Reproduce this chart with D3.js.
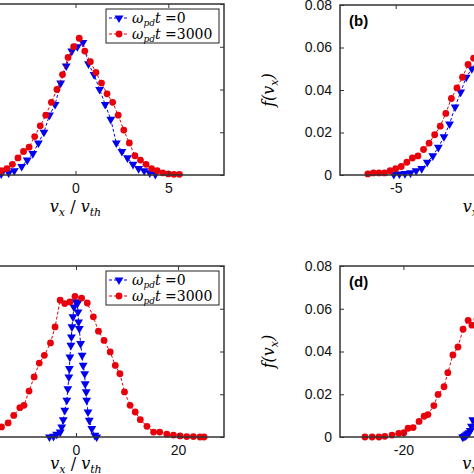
<!DOCTYPE html>
<html><head><meta charset="utf-8">
<script src="https://cdn.jsdelivr.net/npm/d3@7"></script>
<style>body{margin:0;background:#fff}</style>
</head><body>
<div id="chart"></div>
<script>
// values: [v_x/v_th, f(v_x)]
var blueA = [[-4.0,0.0005],[-3.6,0.001],[-3.3,0.002],[-2.9,0.004],[-2.6,0.007],[-2.3,0.010],[-2.0,0.015],[-1.7,0.020],[-1.4,0.028],[-1.1,0.033],[-0.8,0.043],[-0.5,0.051],[-0.2,0.058],[0.1,0.060],[0.4,0.062],[0.7,0.052],[1.0,0.047],[1.3,0.040],[1.6,0.033],[1.9,0.026],[2.2,0.015],[2.5,0.011],[2.8,0.008],[3.1,0.005],[3.4,0.003],[3.7,0.002],[4.0,0.001],[4.3,0.0003]];
var redA = [[-4.6,0.001],[-4.3,0.001],[-4.0,0.002],[-3.7,0.003],[-3.4,0.005],[-3.1,0.008],[-2.8,0.011],[-2.5,0.013],[-2.2,0.018],[-1.9,0.023],[-1.6,0.028],[-1.3,0.034],[-1.0,0.040],[-0.7,0.047],[-0.4,0.055],[-0.1,0.060],[0.2,0.064],[0.5,0.058],[0.8,0.053],[1.1,0.048],[1.4,0.043],[1.7,0.038],[2.0,0.034],[2.3,0.028],[2.6,0.021],[2.9,0.015],[3.2,0.009],[3.5,0.007],[3.8,0.005],[4.1,0.003],[4.4,0.002],[4.7,0.001],[5.0,0.0005],[5.3,0.0003],[5.6,0.0003]];
var blueB = [[-5.1,0.0003],[-4.8,0.0005],[-4.5,0.0007],[-4.2,0.001],[-3.9,0.002],[-3.6,0.003],[-3.3,0.006],[-3.0,0.009],[-2.7,0.013],[-2.4,0.018],[-2.1,0.024],[-1.8,0.032],[-1.5,0.039],[-1.2,0.046],[-0.9,0.050],[-0.6,0.054],[-0.3,0.057],[0.0,0.059]];
var redB = [[-6.5,0.0005],[-6.2,0.001],[-5.9,0.001],[-5.6,0.001],[-5.3,0.002],[-5.0,0.003],[-4.7,0.004],[-4.4,0.006],[-4.1,0.008],[-3.8,0.009],[-3.5,0.012],[-3.2,0.015],[-2.9,0.019],[-2.6,0.023],[-2.3,0.029],[-2.0,0.036],[-1.7,0.041],[-1.4,0.046],[-1.1,0.052],[-0.8,0.055],[-0.5,0.058],[-0.2,0.059]];
var blueC = [[-5.2,0],[-4.4,0.0003],[-3.8,0.0013],[-3.1,0.0023],[-2.8,0.0047],[-2.5,0.0081],[-2.2,0.0125],[-1.8,0.0172],[-1.6,0.0226],[-1.4,0.0281],[-1.3,0.032],[-1.2,0.0374],[-1.0,0.0429],[-0.9,0.0468],[-0.8,0.0515],[-0.6,0.0562],[-0.4,0.0608],[0.0,0.0632],[0.27,0.0624],[0.4,0.0585],[0.5,0.0538],[0.65,0.0507],[0.9,0.0437],[1.2,0.0382],[1.4,0.0335],[1.7,0.0296],[1.8,0.0249],[2.0,0.0211],[2.1,0.0172],[2.35,0.0117],[2.6,0.0078],[3.1,0.0039],[3.7,0.0008],[4.05,0]];
var redC = [[-17.5,0.002],[-16,0.003],[-14.6,0.0047],[-13.3,0.0066],[-12.2,0.0101],[-11.0,0.0137],[-10.2,0.0148],[-9.2,0.0215],[-8.2,0.0281],[-7.2,0.0346],[-6.2,0.0382],[-5.0,0.044],[-4.1,0.0515],[-3.1,0.064],[-2.2,0.0624],[-1.2,0.0632],[-0.2,0.0658],[1.1,0.065],[2.2,0.0627],[3.4,0.0562],[4.4,0.0495],[5.5,0.0452],[6.7,0.0398],[7.7,0.0335],[8.6,0.0296],[9.5,0.0211],[10.6,0.0148],[11.6,0.0117],[12.6,0.0081],[13.9,0.005],[15.2,0.0023],[16.4,0.0023],[17.8,0.0013],[19.1,0.0009],[20.4,0.0005],[21.7,0.0002],[23.0,0.0002],[24.3,0],[25.1,0]];
var blueD = [[-6.0,0],[-5.7,0.0002],[-5.4,0.0005],[-5.1,0.001],[-4.8,0.0015],[-4.5,0.002],[-4.2,0.003],[-3.9,0.005],[-3.6,0.008]];
var redD = [[-29.1,0],[-27.4,0],[-25.8,0],[-24.4,0.0003],[-22.7,0.0009],[-21.1,0.0017],[-19.9,0.002],[-18.9,0.0041],[-17.7,0.0044],[-16.3,0.0073],[-15.1,0.0097],[-14.2,0.0105],[-12.8,0.0147],[-11.8,0.0199],[-10.4,0.0235],[-9.5,0.0301],[-8.3,0.0384],[-7.1,0.0421],[-5.9,0.0504],[-4.7,0.0546],[-3.8,0.0523],[-2.6,0.055]];
var yTicks = [0, 0.02, 0.04, 0.06, 0.08];
var legendLabels = ["=0", "=3000"];

var svg = d3.select("#chart").append("svg").attr("width", 474).attr("height", 474);

var panels = [
  {left:-73, top:4, w:297, h:171, xdom:[-8,8], xticks:[-5,0,5], tag:null, legend:true, xlab:32, blue:blueA, red:redA},
  {left:340, top:5, w:297, h:170, xdom:[-8,8], xticks:[-5,0,5], tag:"(b)", legend:false, xlab:32, blue:blueB, red:redB},
  {left:-72, top:266, w:296, h:171, xdom:[-29,29], xticks:[-20,0,20], tag:null, legend:true, xlab:27, blue:blueC, red:redC},
  {left:340, top:266, w:296, h:171, xdom:[-35,35], xticks:[-20,0,20], tag:"(d)", legend:false, xlab:27, blue:blueD, red:redD}
];

var tri = d3.symbol().type(d3.symbolTriangle).size(34);

function drawPanel(p) {
  var x = d3.scaleLinear().domain(p.xdom).range([p.left, p.left + p.w]);
  var y = d3.scaleLinear().domain([0, 0.08]).range([p.top + p.h, p.top]);
  var g = svg.append("g");

  var line = d3.line().x(d => x(d[0])).y(d => y(d[1]));
  [[p.blue, "#0000ee", "tri"], [p.red, "#e8000b", "dot"]].forEach(function(s) {
    g.append("path").datum(s[0]).attr("d", line).attr("fill", "none")
      .attr("stroke", s[1]).attr("stroke-width", 1).attr("stroke-dasharray", "3,2");
    if (s[2] == "tri") {
      g.selectAll(null).data(s[0]).enter().append("path").attr("d", tri)
        .attr("transform", d => "translate(" + x(d[0]) + "," + y(d[1]) + ") rotate(180)")
        .attr("fill", s[1]);
    } else {
      g.selectAll(null).data(s[0]).enter().append("circle")
        .attr("cx", d => x(d[0])).attr("cy", d => y(d[1])).attr("r", 3.4).attr("fill", s[1]);
    }
  });

  // frame and inside ticks
  var b = p.top + p.h, r = p.left + p.w;
  g.append("g").attr("transform", "translate(0," + b + ")")
    .call(d3.axisBottom(x).tickValues(p.xticks).tickSizeInner(-4).tickSizeOuter(0).tickPadding(8).tickFormat(d => String(d)));
  g.append("g").attr("transform", "translate(0," + p.top + ")")
    .call(d3.axisTop(x).tickValues(p.xticks).tickSizeInner(-4).tickSizeOuter(0).tickFormat(""));
  g.append("g").attr("transform", "translate(" + p.left + ",0)")
    .call(d3.axisLeft(y).tickValues(yTicks).tickSizeInner(-4).tickSizeOuter(0).tickPadding(8).tickFormat(d => d === 0 ? "0" : d3.format(".2f")(d)));
  g.append("g").attr("transform", "translate(" + r + ",0)")
    .call(d3.axisRight(y).tickValues(yTicks).tickSizeInner(-4).tickSizeOuter(0).tickFormat(""));
  g.selectAll(".domain").remove();
  g.selectAll(".tick line").attr("stroke", "#333");
  g.selectAll(".tick text").attr("font-family", "Liberation Sans, Arial").attr("font-size", 14).attr("fill", "#111");
  g.append("rect").attr("x", p.left).attr("y", p.top).attr("width", p.w).attr("height", p.h)
    .attr("fill", "none").attr("stroke", "#333").attr("stroke-width", 1.5);

  // x label
  var xl = g.append("text").attr("x", x(0)).attr("y", b + p.xlab + 5).attr("text-anchor", "middle")
    .attr("font-family", "DejaVu Serif").attr("font-style", "italic").attr("font-size", 16);
  xl.append("tspan").text("v");
  xl.append("tspan").attr("font-size", 11).attr("dy", 4).text("x");
  xl.append("tspan").attr("dy", -4).attr("font-style", "normal").text(" / ");
  xl.append("tspan").text("v");
  xl.append("tspan").attr("font-size", 11).attr("dy", 4).text("th");

  // y label
  var yl = g.append("text").attr("transform", "translate(" + (p.left - 66) + "," + (p.top + p.h / 2) + ") rotate(-90)")
    .attr("text-anchor", "middle").attr("font-family", "DejaVu Serif").attr("font-style", "italic").attr("font-size", 16);
  yl.append("tspan").text("f(v");
  yl.append("tspan").attr("font-size", 11).attr("dy", 4).text("x");
  yl.append("tspan").attr("dy", -4).text(")");

  if (p.tag) {
    g.append("text").attr("x", p.left + 9).attr("y", p.top + 21).text(p.tag)
      .attr("font-family", "Liberation Sans, Arial").attr("font-weight", "bold").attr("font-size", 15);
  }

  if (p.legend) {
    var lx = r - 118, ly = p.top + 5;
    g.append("rect").attr("x", lx).attr("y", ly).attr("width", 113).attr("height", 34)
      .attr("fill", "#fff").attr("stroke", "#222").attr("stroke-width", 1);
    legendLabels.forEach(function(lab, i) {
      var yy = ly + 9 + i * 16, col = i == 0 ? "#0000ee" : "#e8000b";
      g.append("line").attr("x1", lx + 3).attr("x2", lx + 23).attr("y1", yy).attr("y2", yy)
        .attr("stroke", col).attr("stroke-dasharray", "3,2");
      if (i == 0) g.append("path").attr("d", tri).attr("transform", "translate(" + (lx + 13) + "," + yy + ") rotate(180)").attr("fill", col);
      else g.append("circle").attr("cx", lx + 13).attr("cy", yy).attr("r", 3.4).attr("fill", col);
      var t = g.append("text").attr("x", lx + 26).attr("y", yy + 5)
        .attr("font-family", "DejaVu Serif").attr("font-size", 14);
      t.append("tspan").attr("font-style", "italic").text("ω");
      t.append("tspan").attr("font-style", "italic").attr("font-size", 9).attr("dy", 3).text("pd");
      t.append("tspan").attr("font-style", "italic").attr("dy", -3).text("t ");
      t.append("tspan").text(lab);
    });
  }
}

panels.forEach(drawPanel);
</script>
</body></html>
